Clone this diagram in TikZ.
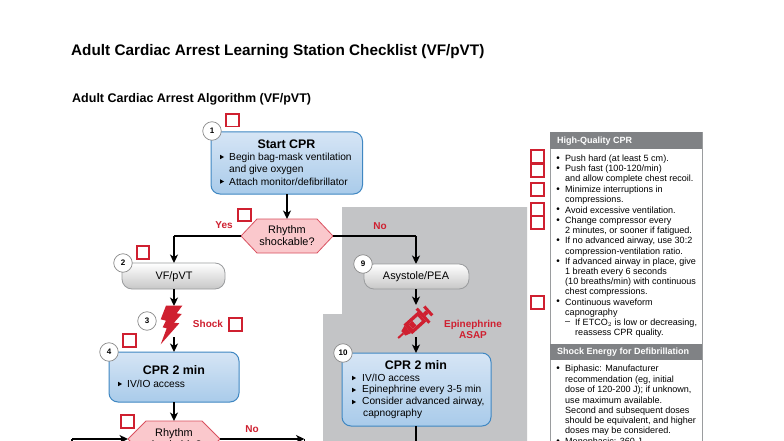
\documentclass[tikz,border=0pt]{standalone}
\usepackage{fontspec}
\setmainfont{Liberation Sans}
\usetikzlibrary{arrows.meta,shadings}
\definecolor{boxedge}{HTML}{3F87C2}
\definecolor{boxtop}{HTML}{D6E5F5}
\definecolor{boxbot}{HTML}{A9CBEA}
\definecolor{hexedge}{HTML}{D9505F}
\definecolor{hexfill}{HTML}{FAC8CC}
\definecolor{grayzone}{HTML}{C3C4C6}
\definecolor{headgray}{HTML}{808285}
\definecolor{alertred}{HTML}{CF2030}
\definecolor{capedge}{HTML}{9A9C9E}
\newcommand{\tribullet}[2]{\fill[black] (#1-1.8,#2-2.2) -- (#1+2,#2) -- (#1-1.8,#2+2.2) -- cycle;}
\tikzset{
  x=1pt,y=-1pt,
  bluebox/.style={draw=boxedge,line width=1pt,rounded corners=9pt,top color=boxtop,bottom color=boxbot},
  capsule/.style={draw=capedge,line width=0.8pt,rounded corners=10pt,top color=white,bottom color=black!22},
  hexa/.style={draw=hexedge,line width=0.8pt,fill=hexfill},
  stepnum/.style={circle,draw=black!45,fill=white,line width=0.7pt,minimum size=18.5pt,inner sep=0pt,font=\fontsize{8}{8}\selectfont\bfseries},
  chk/.style={draw=alertred,line width=1.1pt,fill=none},
  flow/.style={line width=1.5pt,draw=black,-{Stealth[length=8.5pt,width=8pt,inset=2.5pt]}},
  flowline/.style={line width=1.5pt,draw=black},
  alert/.style={text=alertred,font=\fontsize{10}{11}\selectfont\bfseries,align=center,inner sep=0pt},
  boxhead/.style={font=\fontsize{12.4}{12}\selectfont\bfseries,inner sep=0pt},
  item/.style={font=\fontsize{10.2}{12}\selectfont,anchor=west,inner sep=0pt},
  midlabel/.style={font=\fontsize{10.9}{12}\selectfont,inner sep=0pt,align=center},
  sideitem/.style={font=\fontsize{9.05}{10}\selectfont,anchor=west,inner sep=0pt},
  sidehead/.style={draw=none,fill=headgray},
  sidetitle/.style={text=white,font=\fontsize{9}{10}\selectfont\bfseries,anchor=west,inner sep=0pt},
  bull/.style={font=\fontsize{10}{10}\selectfont,inner sep=0pt},
  redglyph/.style={fill=alertred,draw=none},
}
\begin{document}
\begin{tikzpicture}
\path[use as bounding box] (0,0) rectangle (784,441);
\clip (0,0) rectangle (784,441);
\fill[white] (0,0) rectangle (784,441);
% titles
\node[anchor=west,inner sep=0pt,font=\fontsize{15.3}{16}\selectfont\bfseries] (title) at (71,52) {Adult Cardiac Arrest Learning Station Checklist (VF/pVT)};
\node[anchor=west,inner sep=0pt,font=\fontsize{12.5}{14}\selectfont\bfseries] (subtitle) at (72,99) {Adult Cardiac Arrest Algorithm (VF/pVT)};
% gray zone
\fill[grayzone] (342,207) -- (527,207) -- (527,441) -- (323,441) -- (323,314) -- (342,314) -- cycle;
% box 1
\path[bluebox] (211,132) rectangle (362.5,194);
\coordinate (startB) at (287,194);
\node[boxhead] (starthead) at (286.5,144) {Start CPR};
\tribullet{222}{157}
\node[item] (s1) at (229,157.5) {Begin bag-mask ventilation};
\node[item] (s2) at (229,169.5) {and give oxygen};
\tribullet{222}{181.5}
\node[item] (s3) at (229,181.5) {Attach monitor/defibrillator};
\node[stepnum] (n1) at (212,131) {1};
% hexagon 1
\path[hexa] (241,236) -- (257,219) -- (317,219) -- (333,236) -- (317,253) -- (257,253) -- cycle;
\coordinate (hexL) at (241,236);
\coordinate (hexR) at (333,236);
\coordinate (hexT) at (287,219);
\node[midlabel] (hextext) at (287,236) {Rhythm\\shockable?};
\coordinate (turnA) at (174,236);
\coordinate (turnB) at (416,236);
\draw[flow] (startB) -- (hexT);
% capsule 2
\path[capsule] (122,263) rectangle (225,289);
\node[midlabel] (vf) at (174,277) {VF/pVT};
\coordinate (vfT) at (174,263);
\coordinate (vfB) at (174,289);
\draw[flowline] (hexL) -- (turnA);
\draw[flow] (turnA) -- (vfT);
\draw[flowline] (hexR) -- (turnB);
\node[stepnum] (n2) at (123,263) {2};
% bolt
\coordinate (boltT) at (174,306);
\draw[flow] (vfB) -- (boltT);
\fill[redglyph] (166,305.7) -- (182.3,305.7) -- (176.7,313.3) -- (181.7,314) -- (174,322.7) -- (179.3,323.3) -- (160.7,344.3) -- (166.7,328.3) -- (162.7,327.3) -- (166,320.7) -- (160.7,319.3) -- cycle;
\node[stepnum] (n3) at (147,321) {3};
\node[alert] (shock) at (208,324) {Shock};
% box 4
\coordinate (boltB) at (174,337);
\path[bluebox] (109,352) rectangle (239,402);
\coordinate (b4T) at (174,352);
\coordinate (b4B) at (174,402);
\draw[flow] (boltB) -- (b4T);
\node[boxhead] (b4head) at (174,370) {CPR 2 min};
\tribullet{120}{384}
\node[item] (b4i) at (127,384) {IV/IO access};
\node[stepnum] (n4) at (109,352) {4};
% hexagon 2
\path[hexa] (128,439) -- (146,421) -- (202,421) -- (220,439) -- (202,457) -- (146,457) -- cycle;
\coordinate (hex2T) at (174,421);
\coordinate (hex2L) at (128,439);
\coordinate (hex2R) at (220,439);
\node[midlabel,anchor=north] (hex2text) at (174,428.2) {Rhythm\\shockable?};
\draw[flow] (b4B) -- (hex2T);
\coordinate (leftEnd) at (72,439);
\coordinate (rightEnd) at (304.5,439);
\coordinate (leftDown) at (72,446);
\coordinate (rightDown) at (304.5,446);
\draw[flowline] (leftDown) -- (leftEnd);
\draw[flowline] (rightDown) -- (rightEnd);
\draw[flow] (leftEnd) -- (hex2L);
\draw[flow] (hex2R) -- (rightEnd);
% capsule 9
\coordinate (b9T) at (416,264);
\coordinate (b9B) at (416,289);
\draw[flow] (turnB) -- (b9T);
\path[capsule] (364,264) rectangle (469,289);
\node[midlabel] (asy) at (416,277) {Asystole/PEA};
\node[stepnum] (n9) at (363,264) {9};
\coordinate (syrT) at (416,305);
\draw[flow] (b9B) -- (syrT);
% syringe
\begin{scope}[shift={(416,322)},rotate=42]
\fill[redglyph] (-11,-6.5) rectangle (8,6.5);
\fill[redglyph] (8,-9.5) rectangle (11,9.5);
\fill[redglyph] (11,-2) rectangle (15,2);
\fill[redglyph] (15,-6) rectangle (18,6);
\fill[redglyph] (-17,-3) -- (-11,-5) -- (-11,5) -- (-17,3) -- cycle;
\fill[redglyph] (-24,-1) rectangle (-17,1);
\fill[grayzone] (-7,-3) rectangle (5,3);
\fill[redglyph] (-7,-3) rectangle (-2,3);
\end{scope}
\node[alert] (epi) at (473,329.5) {Epinephrine\\ASAP};
% box 10
\coordinate (syrB) at (416,337);
\path[bluebox] (342,353) rectangle (491,426);
\coordinate (b10T) at (416,353);
\coordinate (b10B) at (416,426);
\coordinate (b10End) at (416,445);
\draw[flow] (syrB) -- (b10T);
\draw[flowline] (b10B) -- (b10End);
\node[boxhead] (b10head) at (416,365) {CPR 2 min};
\tribullet{354}{378}
\node[item] (t1t) at (362,378) {IV/IO access};
\tribullet{354}{390}
\node[item] (t2t) at (362,390) {Epinephrine every 3-5 min};
\tribullet{354}{402}
\node[item] (t3t) at (362,402) {Consider advanced airway,};
\node[item] (t4t) at (363,414) {capnography};
\node[stepnum] (n10) at (343,353) {10};
% labels
\node[alert] (yes) at (224,225) {Yes};
\node[alert] (no1) at (380,226) {No};
\node[alert] (no2) at (252,429) {No};
% right panel
\draw[capedge,line width=0.9pt] (550,132) -- (550,445) (702,132) -- (702,445);
\path[sidehead] (550,132) rectangle (702,149);
\path[sidehead] (550,343.5) rectangle (702,360);
\node[sidetitle] (h1) at (557,141) {High-Quality CPR};
\node[sidetitle] (h2) at (557,352) {Shock Energy for Defibrillation};
\foreach \y/\t in {159.3/{Push hard (at least 5 cm).},169.4/{Push fast (100-120/min)},179.6/{and allow complete chest recoil.},189.9/{Minimize interruptions in},200.2/{compressions.},210.5/{Avoid excessive ventilation.},220.8/{Change compressor every},231.1/{2 minutes, or sooner if fatigued.},241.4/{If no advanced airway, use 30:2},251.7/{compression-ventilation ratio.},262/{If advanced airway in place, give},272.2/{1 breath every 6 seconds},282.4/{(10 breaths/min) with continuous},292.5/{chest compressions.},302.5/{Continuous waveform},312.7/{capnography},369.3/{Biphasic: Manufacturer},379.8/{recommendation (eg, initial},390.2/{dose of 120-200 J); if unknown,},400.5/{use maximum available.},410.8/{Second and subsequent doses},421.1/{should be equivalent, and higher},431.4/{doses may be considered.},442/{Monophasic: 360 J}}
  \node[sideitem] at (565,\y) {\t};
\foreach \y in {159.3,169.4,189.9,210.5,220.8,241.4,262,302.5,369.3,442}
  \node[bull] at (558,\y) {\textbullet};
\node[sideitem] (dash) at (565,323) {--};
\node[sideitem] (etco) at (575,323) {If ETCO$_2$ is low or decreasing,};
\node[sideitem] (etco2) at (575,333) {reassess CPR quality.};
% check boxes
\foreach \a/\b/\c/\d in {226/114/239/126.5,238/209/251/221,137/246/149/259,229/318/242/331,123/334/136/347,121/415/134/428,531/150/544/163,531/164/544/177,531/183/544/196,531/203/544/216,531/216/544/229,531/296/544/309}
  \draw[chk] (\a,\b) rectangle (\c,\d);
\end{tikzpicture}
\end{document}
